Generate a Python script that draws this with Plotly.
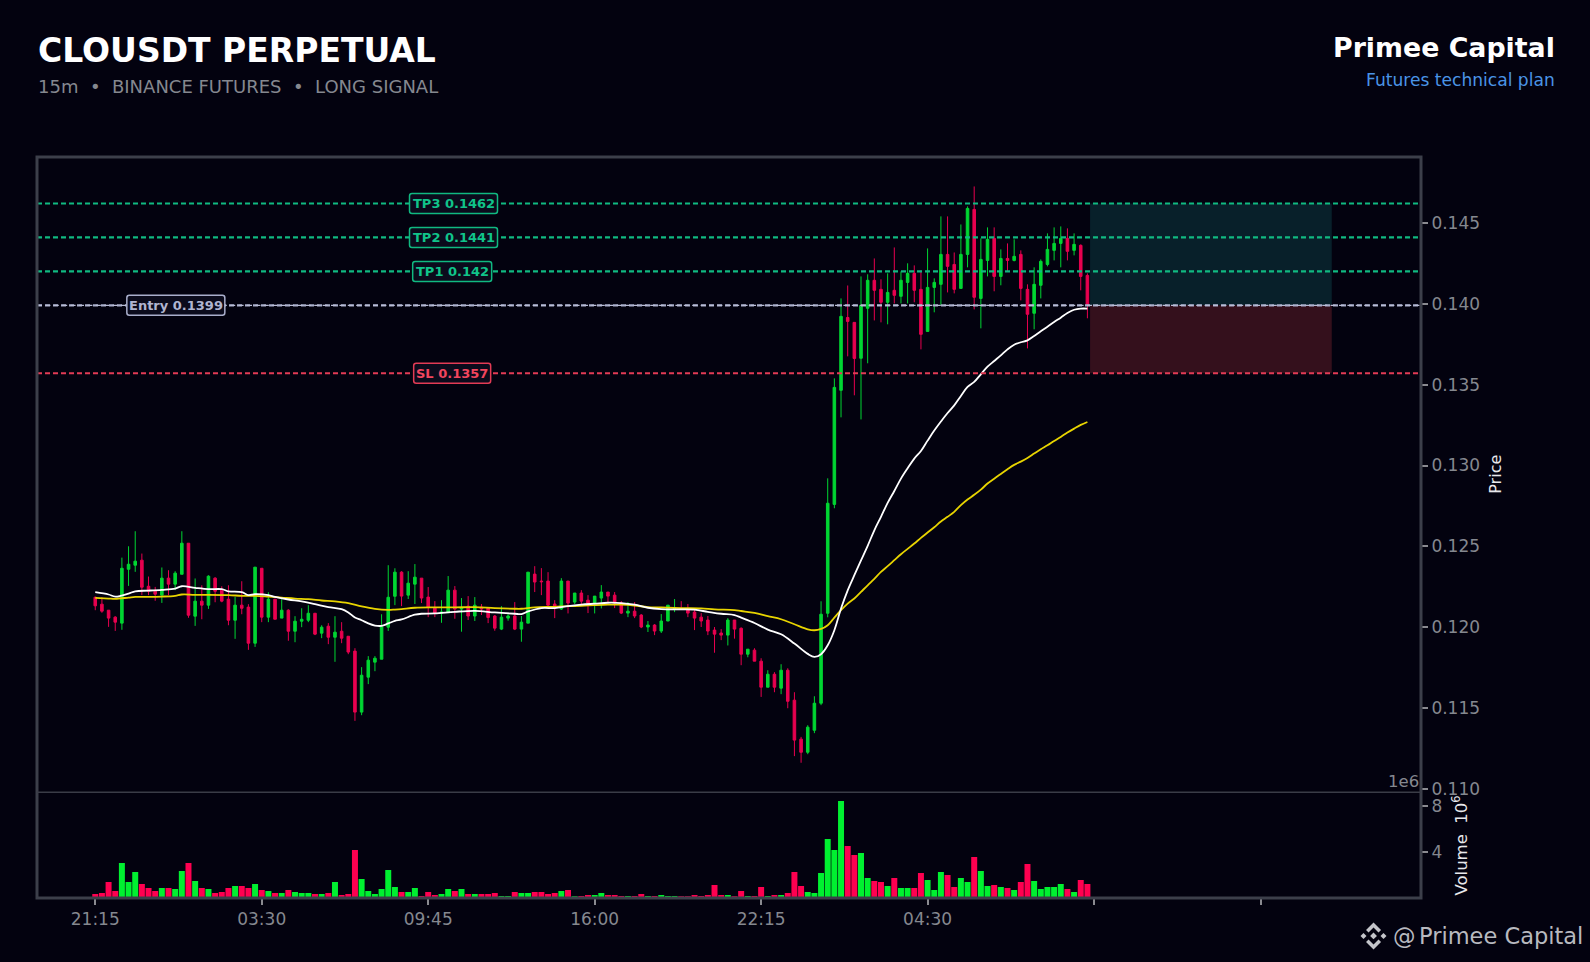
import plotly.graph_objects as go
from plotly.subplots import make_subplots

FONT = "DejaVu Sans"
BG = "#03020f"
GREY = "#85888f"
W = 1590
H = 962
# plot frame in page pixels
LEFT, RIGHT, TOP, BOTTOM = 37, 1421.5, 156.5, 898

tick_idx = [0, 25, 50, 75, 100, 125]
tick_lab = ["21:15", "03:30", "09:45", "16:00", "22:15", "04:30"]
blank_ticks = [150, 175]

opens = [
    .12186, .12143, .12106, .12063, .12026, .12359, .12384, .12415, .12254, .12223,
    .12199, .12304, .12267, .12328, .12520, .12069, .12162, .12137, .12304, .12230,
    .12174, .12044, .12137, .12125, .11902, .12365, .12063, .12174, .12057, .12106,
    .11976, .12038, .12044, .12087, .11964, .12007, .11939, .11976, .11945, .11853,
    .11476, .11692, .11785, .11803, .12001, .12192, .12341, .12199, .12267, .12304,
    .12187, .12119, .12088, .12094, .12230, .12113, .12131, .12070, .12125, .12119,
    .12070, .11989, .12057, .12070, .11989, .12026, .12329, .12286, .12286, .12144,
    .12113, .12286, .12156, .12212, .12168, .12148, .12181, .12218, .12199, .12150,
    .12088, .12100, .12076, .12002, .12014, .11977, .12039, .12111, .12117, .12113,
    .12094, .12063, .12045, .11983, .11965, .11952, .12045, .11994, .11834, .11859,
    .11791, .11630, .11710, .11624, .11735, .11550, .11309, .11228, .11364, .11531,
    .12087, .12760, .13465, .13915, .13885, .13663, .13972, .14145, .14089, .14009,
    .14083, .14046, .14132, .14188, .14089, .13829, .14101, .14120, .14305, .14243,
    .14095, .14305, .14583, .14033, .14268, .14404, .14169, .14280, .14268, .14305,
    .14089, .13941, .14114, .14243, .14330, .14373, .14404, .14330, .14361, .14175,
]
highs = [
    .12190, .12186, .12106, .12069, .12431, .12501, .12594, .12456, .12314, .12250,
    .12370, .12353, .12347, .12594, .12520, .12302, .12260, .12322, .12310, .12254,
    .12260, .12188, .12285, .12143, .12372, .12365, .12217, .12174, .12174, .12112,
    .12069, .12118, .12137, .12087, .12013, .12026, .12069, .12032, .11945, .11871,
    .11754, .11822, .11822, .12081, .12384, .12365, .12347, .12347, .12391, .12304,
    .12249, .12162, .12168, .12317, .12255, .12181, .12193, .12187, .12144, .12119,
    .12076, .12131, .12082, .12156, .12070, .12341, .12378, .12366, .12341, .12168,
    .12304, .12286, .12212, .12230, .12199, .12193, .12261, .12218, .12218, .12162,
    .12156, .12156, .12082, .12039, .12020, .12082, .12137, .12175, .12162, .12144,
    .12113, .12088, .12070, .12002, .11989, .12057, .12045, .12000, .11865, .11871,
    .11809, .11735, .11723, .11772, .11747, .11599, .11323, .11395, .11574, .12161,
    .12921, .13539, .14033, .14113, .13885, .14169, .14182, .14280, .14151, .14188,
    .14348, .14200, .14250, .14237, .14206, .14342, .14157, .14540, .14540, .14317,
    .14490, .14602, .14725, .14404, .14472, .14472, .14336, .14373, .14398, .14330,
    .14120, .14225, .14274, .14435, .14472, .14478, .14466, .14435, .14367, .14188,
]
lows = [
    .12106, .12090, .12003, .11978, .11985, .12256, .12343, .12199, .12199, .12164,
    .12151, .12199, .12230, .12328, .12059, .12009, .12050, .12114, .12155, .12155,
    .12013, .11929, .12081, .11861, .11879, .12032, .12032, .12050, .12057, .11917,
    .11908, .12001, .12032, .11952, .11933, .11896, .11787, .11902, .11834, .11422,
    .11457, .11649, .11729, .11803, .11978, .12137, .12131, .12175, .12144, .12150,
    .12063, .12063, .12028, .12088, .12053, .11973, .12045, .12039, .12076, .12026,
    .11979, .11983, .12041, .11983, .11911, .12026, .12218, .12199, .12131, .12057,
    .12107, .12086, .12144, .12137, .12088, .12086, .12117, .12150, .12119, .12082,
    .12063, .12057, .11995, .11971, .11952, .11965, .12039, .12094, .12107, .12063,
    .11983, .12002, .11952, .11843, .11921, .11888, .11930, .11766, .11815, .11791,
    .11570, .11630, .11599, .11587, .11500, .11204, .11163, .11216, .11346, .11519,
    .12062, .12736, .13298, .13675, .13434, .13285, .13632, .13897, .13885, .13873,
    .14002, .14002, .14002, .14009, .13718, .13829, .13947, .13990, .14070, .14064,
    .14095, .14225, .13965, .13848, .14169, .14077, .14114, .14200, .14262, .14021,
    .13724, .13842, .14033, .14231, .14268, .14225, .14268, .14299, .14083, .13910,
]
closes = [
    .12133, .12100, .12057, .12032, .12365, .12390, .12409, .12248, .12223, .12205,
    .12304, .12267, .12335, .12520, .12075, .12162, .12137, .12316, .12223, .12162,
    .12044, .12137, .12118, .11902, .12372, .12063, .12174, .12050, .12106, .11976,
    .12038, .12050, .12087, .11958, .12001, .11939, .11970, .11933, .11847, .11476,
    .11704, .11797, .11809, .12003, .12186, .12341, .12193, .12273, .12310, .12181,
    .12125, .12088, .12094, .12230, .12113, .12119, .12070, .12137, .12113, .12061,
    .11995, .12063, .12070, .11989, .12032, .12341, .12280, .12282, .12137, .12119,
    .12286, .12150, .12212, .12162, .12150, .12193, .12218, .12193, .12150, .12088,
    .12100, .12070, .12002, .12014, .11977, .12039, .12137, .12117, .12111, .12088,
    .12057, .12039, .11977, .11958, .11952, .12045, .11989, .11834, .11865, .11791,
    .11630, .11710, .11630, .11735, .11543, .11303, .11228, .11383, .11531, .12081,
    .12767, .13483, .13922, .13891, .13662, .13990, .14145, .14083, .14009, .14070,
    .14052, .14145, .14188, .14083, .13811, .14101, .14132, .14305, .14231, .14089,
    .14305, .14589, .14040, .14274, .14398, .14169, .14280, .14268, .14293, .14095,
    .13935, .14120, .14262, .14336, .14373, .14404, .14324, .14367, .14169, .13990,
]
# volume in millions
volumes = [
    .35, .43, 1.39, .61, 3.04, 1.39, 2.26, 1.22, .87, .61,
    .87, .87, .78, 2.35, 3.04, 1.48, .87, .78, .43, .52,
    .87, 1.04, 1.04, .87, 1.22, .70, .61, .43, .43, .70,
    .52, .43, .43, .35, .35, .43, 1.39, .26, .35, 4.17,
    1.65, .61, .35, .78, 2.44, .96, .52, .52, .87, .17,
    .52, .26, .35, .78, .61, .78, .35, .35, .35, .35,
    .43, .17, .17, .52, .43, .43, .52, .52, .35, .43,
    .61, .70, .09, .17, .26, .26, .43, .26, .26, .17,
    .17, .17, .35, .17, .17, .26, .17, .17, .09, .09,
    .26, .17, .26, 1.13, .26, .26, .09, .61, .17, .17,
    .96, .17, .26, .26, .43, 2.26, 1.04, .52, .43, 2.17,
    5.13, 4.17, 8.44, 4.52, 3.74, 3.91, 1.74, 1.48, 1.39, 1.04,
    1.74, .87, .87, .87, 2.17, 1.57, .70, 2.26, 2.00, .96,
    1.74, 1.39, 3.57, 2.35, 1.04, 1.13, .96, .87, .70, 1.39,
    2.96, 1.48, .78, .96, .96, 1.22, .78, .52, 1.57, 1.22,
]

fast_x = [
    0, 2, 3, 5, 6, 8, 10, 12, 13, 15, 17, 19, 20, 22, 23, 24, 26, 27, 29, 31, 33, 35, 37, 38, 39,
    40, 41, 42, 43, 44, 45, 46, 48, 49, 51, 54, 57, 60, 63, 64, 65, 67, 69, 71, 73, 75, 77, 79,
    81, 83, 85, 88, 90, 92, 94, 96, 97, 99, 101, 103, 105, 107, 108, 109, 110, 111, 112, 113,
    114, 115, 116, 117, 118, 119, 120, 121, 122, 123, 124, 125, 126, 127, 128, 129, 130, 131,
    132, 133, 134, 135, 136, 137, 138, 139, 140, 141, 142, 143, 144, 145, 146, 147, 148, 149,
]
fast_ma = [
    .12217, .12203, .12190, .12209, .12223, .12227, .12232, .12240, .12254, .12244, .12236, .12236,
    .12223, .12217, .12199, .12205, .12199, .12188, .12172, .12160, .12143, .12125, .12112, .12092,
    .12061, .12044, .12024, .12011, .12009, .12024, .12040, .12049, .12078, .12084, .12086, .12096,
    .12102, .12092, .12084, .12082, .12098, .12119, .12119, .12131, .12140, .12146, .12152, .12150,
    .12140, .12121, .12113, .12111, .12109, .12096, .12084, .12076, .12060, .12027, .11986, .11957,
    .11900, .11836, .11817, .11834, .11889, .11982, .12116, .12229, .12322, .12414, .12504, .12600,
    .12683, .12769, .12843, .12919, .12983, .13043, .13090, .13154, .13216, .13272, .13325, .13372,
    .13430, .13486, .13517, .13564, .13611, .13646, .13681, .13718, .13747, .13762, .13774, .13801,
    .13830, .13858, .13887, .13914, .13943, .13963, .13970, .13970,
]
slow_x = [
    0, 2, 3, 5, 6, 8, 10, 12, 13, 15, 20, 22, 24, 26, 28, 30, 32, 34, 36, 38, 40, 42, 44, 45, 46,
    48, 51, 54, 57, 60, 63, 64, 66, 69, 71, 73, 75, 77, 79, 81, 83, 85, 88, 91, 93, 96, 97, 99,
    101, 103, 105, 107, 108, 109, 110, 111, 112, 113, 114, 115, 116, 117, 118, 119, 120, 121,
    122, 123, 124, 125, 126, 127, 128, 129, 130, 131, 132, 133, 134, 135, 136, 137, 138, 139,
    140, 141, 142, 143, 144, 145, 146, 147, 148, 149,
]
slow_ma = [
    .12182, .12178, .12176, .12184, .12188, .12188, .12190, .12195, .12203, .12201, .12199, .12195,
    .12195, .12190, .12184, .12178, .12174, .12166, .12160, .12149, .12129, .12114, .12108, .12110,
    .12113, .12121, .12123, .12123, .12125, .12119, .12115, .12115, .12123, .12127, .12131, .12133,
    .12137, .12140, .12140, .12135, .12125, .12123, .12119, .12117, .12111, .12107, .12101, .12089,
    .12069, .12050, .12019, .11988, .11982, .11990, .12013, .12060, .12106, .12147, .12178, .12219,
    .12260, .12300, .12343, .12378, .12415, .12452, .12485, .12518, .12553, .12586, .12619, .12654,
    .12683, .12714, .12755, .12790, .12819, .12851, .12889, .12919, .12948, .12977, .13004, .13024,
    .13047, .13074, .13101, .13125, .13152, .13177, .13204, .13228, .13251, .13269,
]

level_names = ["TP3", "TP2", "TP1", "Entry", "SL"]
level_prices = [0.1462, 0.1441, 0.142, 0.1399, 0.1357]
level_colors = ["#10b981", "#10b981", "#10b981", "#a9aecb", "#e23b55"]
label_text_colors = ["#10c48a", "#10c48a", "#10c48a", "#b0b5d0", "#f2455e"]
label_x = [53.8, 53.8, 53.6, 12.1, 53.6]
label_w = [88, 88, 79, 98, 77]

zone_x = [149.4, 185.7]


def px(x):
    return (x - LEFT) / (RIGHT - LEFT)


def py(y):
    return (BOTTOM - y) / (BOTTOM - TOP)


def poly(points, cx, cy):
    parts = [f"{px(cx + a):.5f},{py(cy + b):.5f}" for a, b in points]
    return "M" + " L".join(parts) + " Z"


vol_share = 105.7 / 741.5
fig = make_subplots(rows=2, cols=1, shared_xaxes=True, vertical_spacing=0,
                    row_heights=[1 - vol_share, vol_share])

x = list(range(len(opens)))
fig.add_trace(go.Candlestick(x=x, open=opens, high=highs, low=lows, close=closes,
                             increasing=dict(line=dict(color="#00d632", width=1), fillcolor="#00d632"),
                             decreasing=dict(line=dict(color="#e8004f", width=1), fillcolor="#e8004f"),
                             hoverinfo="skip"), row=1, col=1)
fig.add_trace(go.Scatter(x=slow_x, y=slow_ma, mode="lines", line=dict(color="#e8d400", width=1.8, shape="spline"),
                         hoverinfo="skip"), row=1, col=1)
fig.add_trace(go.Scatter(x=fast_x, y=fast_ma, mode="lines", line=dict(color="#ffffff", width=1.8, shape="spline"),
                         hoverinfo="skip"), row=1, col=1)
vol_colors = ["#00f030" if c >= o else "#ff0050" for o, c in zip(opens, closes)]
fig.add_trace(go.Bar(x=x, y=volumes, width=0.9, marker=dict(color=vol_colors, line_width=0),
                     hoverinfo="skip"), row=2, col=1)

# target and stop zones
fig.add_shape(type="rect", x0=zone_x[0], x1=zone_x[1], y0=level_prices[3], y1=level_prices[0],
              xref="x", yref="y", fillcolor="#08202a", line_width=0, layer="below")
fig.add_shape(type="rect", x0=zone_x[0], x1=zone_x[1], y0=level_prices[4], y1=level_prices[3],
              xref="x", yref="y", fillcolor="#34101c", line_width=0, layer="below")

for name, price, color, tcolor, lx, lw in zip(level_names, level_prices, level_colors,
                                              label_text_colors, label_x, label_w):
    fig.add_shape(type="line", xref="paper", x0=0, x1=1, yref="y", y0=price, y1=price,
                  line=dict(color=color, width=2.1, dash="5px,3px"))
    if name == "Entry":
        # second dash run on the entry line, the reference shows two overlaid
        fig.add_shape(type="line", xref="paper", x0=0, x1=1, yref="y", y0=price, y1=price,
                      line=dict(color="#b9bdd6", width=1.4, dash="5px,3.4px"))
    # label box with small rounded corners, sized in pixels round its anchor
    a, b, r = lw / 2, 10, 2.5
    path = (f"M{-a + r},{-b} L{a - r},{-b} Q{a},{-b} {a},{-b + r} L{a},{b - r} Q{a},{b} {a - r},{b} "
            f"L{-a + r},{b} Q{-a},{b} {-a},{b - r} L{-a},{-b + r} Q{-a},{-b} {-a + r},{-b} Z")
    fig.add_shape(type="path", path=path, xref="x", yref="y", xsizemode="pixel", ysizemode="pixel",
                  xanchor=lx, yanchor=price, fillcolor="#0b0b1c", line=dict(color=color, width=1.5))
    fig.add_annotation(x=lx, y=price, xref="x", yref="y", text=f"<b>{name} {price}</b>", showarrow=False,
                       font=dict(family=FONT, size=13, color=tcolor))

# frame and divider
fig.add_shape(type="rect", xref="paper", yref="paper", x0=0, x1=1, y0=0, y1=1,
              line=dict(color="#3c3f4a", width=3))
fig.add_shape(type="line", xref="paper", yref="paper", x0=0, x1=1, y0=vol_share, y1=vol_share,
              line=dict(color="#3a3c47", width=1.5))

# logo next to the watermark
LOGO = "#c4c5ca"
cx, cy = 1374, 936
logo_parts = [
    [(0, -13.5), (7.5, -6), (5, -3.5), (0, -8.5), (-5, -3.5), (-7.5, -6)],
    [(0, 13.5), (7.5, 6), (5, 3.5), (0, 8.5), (-5, 3.5), (-7.5, 6)],
    [(0, -3.4), (3.4, 0), (0, 3.4), (-3.4, 0)],
    [(-10, -3), (-7, 0), (-10, 3), (-13, 0)],
    [(10, -3), (13, 0), (10, 3), (7, 0)],
]
for pts in logo_parts:
    fig.add_shape(type="path", xref="paper", yref="paper", path=poly(pts, cx, cy),
                  fillcolor=LOGO, line_width=0)


def note(text, x, y, size, color, xanchor="left", yanchor="middle", angle=0):
    fig.add_annotation(text=text, x=px(x), y=py(y), xref="paper", yref="paper", showarrow=False,
                       xanchor=xanchor, yanchor=yanchor, textangle=angle,
                       font=dict(family=FONT, size=size, color=color))


nb = "\u00a0"
note("<b>CLOUSDT PERPETUAL</b>", 36, 49.5, 33, "#ffffff")
note(f"15m{nb}{nb}•{nb}{nb}BINANCE FUTURES{nb}{nb}•{nb}{nb}LONG SIGNAL", 36, 86, 18, GREY)
note("<b>Primee Capital</b>", 1558, 47, 26.8, "#ffffff", xanchor="right")
note("Futures technical plan", 1558, 79.5, 17.1, "#4a94e6", xanchor="right")
note("Price", 1496, 474, 16, "#e8e8ec", xanchor="center", angle=-90)
note(f"Volume{nb}{nb}10<sup>6</sup>", 1461, 845, 16.5, "#e8e8ec", xanchor="center", angle=-90)
note("1e6", 1422, 781, 16.5, GREY, xanchor="right")
note("@", 1391, 936, 22.5, "#b8b9bf")
note("Primee Capital", 1417, 936, 22.5, "#b8b9bf")

fig.update_layout(width=W, height=962, margin=dict(l=LEFT, r=W - RIGHT, t=TOP, b=H - BOTTOM),
                  paper_bgcolor=BG, plot_bgcolor=BG, showlegend=False, boxgap=0.45,
                  font=dict(family=FONT, size=17, color=GREY))
fig.update_xaxes(range=[-8.75, 199.1], showgrid=False, zeroline=False, rangeslider_visible=False,
                 showline=False)
fig.update_xaxes(tickmode="array", tickvals=tick_idx, ticktext=tick_lab, ticks="outside", ticklen=6,
                 tickcolor="#8a8a90", tickwidth=1.5, tickfont=dict(size=17, color=GREY),
                 minor=dict(tickmode="array", tickvals=blank_ticks, ticks="outside", ticklen=6,
                            tickcolor="#8a8a90", tickwidth=1.5, showgrid=False),
                 row=2, col=1)
fig.update_xaxes(showticklabels=False, ticks="", row=1, col=1)
fig.update_yaxes(side="right", showgrid=False, zeroline=False, showline=False, ticks="outside",
                 ticklen=6, tickcolor="#8a8a90", tickwidth=1.5, tickfont=dict(size=17, color=GREY))
fig.update_yaxes(range=[0.10980, 0.14907], tickmode="array",
                 tickvals=[0.110, 0.115, 0.120, 0.125, 0.130, 0.135, 0.140, 0.145], tickformat=".3f",
                 row=1, col=1)
fig.update_yaxes(range=[0, 9.19], tickmode="array", tickvals=[4, 8], row=2, col=1)

fig.write_html("out.html", config={"displayModeBar": False},
               post_script="document.body.style.margin='0';document.body.style.background='#03020f';")
